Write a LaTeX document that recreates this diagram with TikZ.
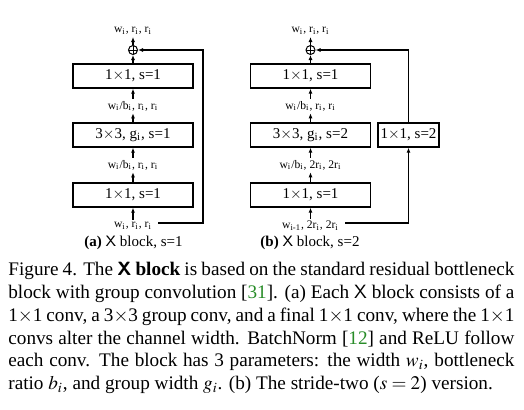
\documentclass[tikz,border=0pt]{standalone}
\usepackage{mathptmx}
\usepackage{fontspec}
\setmainfont{Liberation Serif}
\usetikzlibrary{arrows.meta}

\definecolor{citegreen}{RGB}{40,140,40}
\newcommand{\xblk}{\textsf{X}}
\newcommand{\ci}[1]{[\textcolor{citegreen}{#1}]}

\tikzset{
  blk/.style={draw, line width=0.65pt, minimum width=60pt, minimum height=12pt,
    inner sep=0pt, font=\fontsize{7.5}{8}\selectfont},
  sidebox/.style={blk, minimum width=30.5pt},
  lbl/.style={inner sep=1pt, font=\fontsize{5.8}{6}\selectfont},
  addop/.style={circle, draw, line width=0.5pt, minimum size=4.5pt, inner sep=0pt,
    path picture={\draw[line width=0.4pt]
      (path picture bounding box.north) -- (path picture bounding box.south)
      (path picture bounding box.west) -- (path picture bounding box.east);}},
  flow/.style={-{Latex[length=2.5pt,width=2pt]}, line width=0.55pt},
}

\begin{document}
\begin{tikzpicture}[x=0.5pt, y=-0.5pt]
    \useasboundingbox (0,0) rectangle (524,409);

    % (a) X block, s=1
    \node[blk] (a1) at (133,195) {1$\times$1, s=1};
    \node[blk] (a2) at (133,135) {3$\times$3, g\textsubscript{i}, s=1};
    \node[blk] (a3) at (133,76) {1$\times$1, s=1};
    \node[addop] (asum) at (133,50) {};
    \node[lbl] (ain) at (133,226) {w\textsubscript{i}, r\textsubscript{i}, r\textsubscript{i}};
    \node[lbl] (al1) at (133,165) {w\textsubscript{i}/b\textsubscript{i}, r\textsubscript{i}, r\textsubscript{i}};
    \node[lbl] (al2) at (133,106) {w\textsubscript{i}/b\textsubscript{i}, r\textsubscript{i}, r\textsubscript{i}};
    \node[lbl] (aout) at (133,31) {w\textsubscript{i}, r\textsubscript{i}, r\textsubscript{i}};
    \draw[flow] (ain) -- (a1);
    \draw[flow] (a1) -- (al1);
    \draw[flow] (al1) -- (a2);
    \draw[flow] (a2) -- (al2);
    \draw[flow] (al2) -- (a3);
    \draw[flow] (a3) -- (asum);
    \draw[flow] (asum) -- (aout);
    % shortcut
    \coordinate (ajoin) at (203,223);
    \draw[flow] ([xshift=2pt]ain.east |- ajoin) -- (ajoin) |- (asum);
    \node[font=\fontsize{7.5}{8}\selectfont] (acap) at (133.5,243) {\textbf{(a)} \xblk{} block, s=1};

    % (b) X block, s=2
    \node[blk] (b1) at (310.5,195) {1$\times$1, s=1};
    \node[blk] (b2) at (310.5,135) {3$\times$3, g\textsubscript{i}, s=2};
    \node[blk] (b3) at (310.5,76) {1$\times$1, s=1};
    \node[sidebox] (bs) at (408.5,135) {1$\times$1, s=2};
    \node[addop] (bsum) at (310.5,50) {};
    \node[lbl] (bin) at (310.5,226) {w\textsubscript{i-1}, 2r\textsubscript{i}, 2r\textsubscript{i}};
    \node[lbl] (bl1) at (310.5,165) {w\textsubscript{i}/b\textsubscript{i}, 2r\textsubscript{i}, 2r\textsubscript{i}};
    \node[lbl] (bl2) at (310.5,106) {w\textsubscript{i}/b\textsubscript{i}, r\textsubscript{i}, r\textsubscript{i}};
    \node[lbl] (bout) at (310.5,31) {w\textsubscript{i}, r\textsubscript{i}, r\textsubscript{i}};
    \draw[flow] (bin) -- (b1);
    \draw[flow] (b1) -- (bl1);
    \draw[flow] (bl1) -- (b2);
    \draw[flow] (b2) -- (bl2);
    \draw[flow] (bl2) -- (b3);
    \draw[flow] (b3) -- (bsum);
    \draw[flow] (bsum) -- (bout);
    % projection shortcut
    \coordinate (bjoin) at (408.5,223);
    \draw[flow] ([xshift=2pt]bin.east |- bjoin) -- (bjoin) -- (bs);
    \draw[flow] (bs) |- (bsum);
    \node[font=\fontsize{7.5}{8}\selectfont] (bcap) at (310,243) {\textbf{(b)} \xblk{} block, s=2};

    % Caption
    \node[anchor=north west, inner sep=0pt, font=\fontsize{9.6}{11.4}\selectfont] (cap) at (8,262)
      {\parbox{253pt}{Figure 4. The \textbf{\textsf{X} block} is based on the standard residual bottleneck\linebreak
      block with group convolution \ci{31}. (a) Each \xblk{} block consists of a\linebreak
      1$\times$1 conv, a 3$\times$3 group conv, and a final 1$\times$1 conv, where the 1$\times$1\linebreak
      convs alter the channel width. BatchNorm \ci{12} and ReLU follow\linebreak
      each conv. The block has 3 parameters: the width $w_i$, bottleneck\linebreak
      ratio $b_i$, and group width $g_i$. (b) The stride-two ($s=2$) version.}};
\end{tikzpicture}
\end{document}
